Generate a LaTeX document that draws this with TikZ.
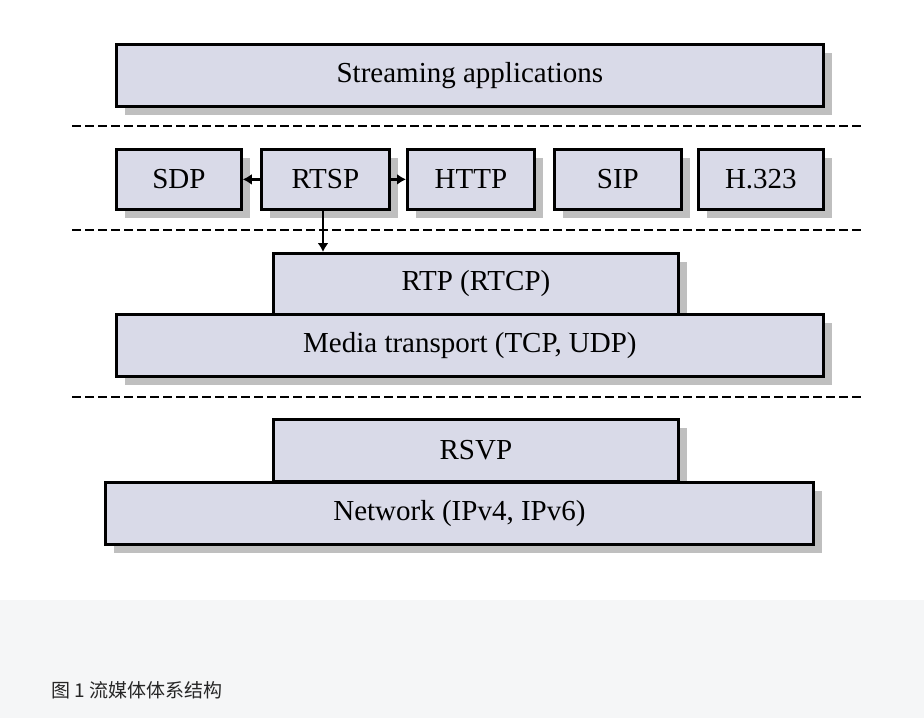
\documentclass[tikz,border=0pt]{standalone}
\usepackage{fontspec}
\usetikzlibrary{arrows.meta}
\setmainfont{Liberation Serif}
\newfontfamily\cjk{Noto Sans CJK SC}
\begin{document}
\begin{tikzpicture}[x=1pt,y=-1pt,
  boxst/.style={draw=black,line width=2.8pt,fill=boxfill,inner sep=0pt,font=\fontsize{29}{32}\selectfont},
  shad/.style={fill=black!25,draw=none},
  sep/.style={draw=black,line width=2.6pt,dash pattern=on 9pt off 4pt},
  arr/.style={draw=black,line width=2.4pt,-{Latex[length=9pt,width=11pt]}}]
\definecolor{boxfill}{HTML}{D9DAE8}
\definecolor{band}{HTML}{F5F6F7}
\useasboundingbox (0,0) rectangle (924,718);
\fill[white] (0,0) rectangle (924,718);
\fill[band] (0,600) rectangle (924,718);
\newcommand{\layerbox}[6]{%
  \fill[shad] (#2+10,#3+10) rectangle (#4+10,#5+10);
  \node[boxst,minimum width=#4-#2,minimum height=#5-#3,anchor=north west] (#1) at (#2,#3) {#6};}
\layerbox{app}{115}{43}{822}{105}{Streaming applications}
\draw[sep,line width=1.5pt] (72,126) -- (862,126);
\layerbox{sdp}{115}{148}{240}{208}{SDP}
\layerbox{rtsp}{260}{148}{388}{208}{RTSP}
\layerbox{http}{406}{148}{533}{208}{HTTP}
\layerbox{sip}{553}{148}{680}{208}{SIP}
\layerbox{h}{697}{148}{822}{208}{H.323}
\draw[sep] (72,230) -- (862,230);
\layerbox{rtp}{272}{252}{677}{313}{RTP (RTCP)}
\layerbox{media}{115}{313}{822}{375}{Media transport (TCP, UDP)}
\draw[sep] (72,397) -- (862,397);
\layerbox{rsvp}{272}{418}{677}{480}{RSVP}
\layerbox{net}{104}{481}{812}{543}{Network (IPv4, IPv6)}
\draw[arr] (rtsp.west) -- (sdp.east);
\draw[arr] (rtsp.east) -- (http.west);
\draw[arr] (rtsp.south -| 323,0) -- (rtp.north -| 323,0);
\node[anchor=west,font=\cjk\fontsize{19}{22}\selectfont,text=black!85] (cap) at (48,690) {图 1\ 流媒体体系结构};
\end{tikzpicture}
\end{document}
